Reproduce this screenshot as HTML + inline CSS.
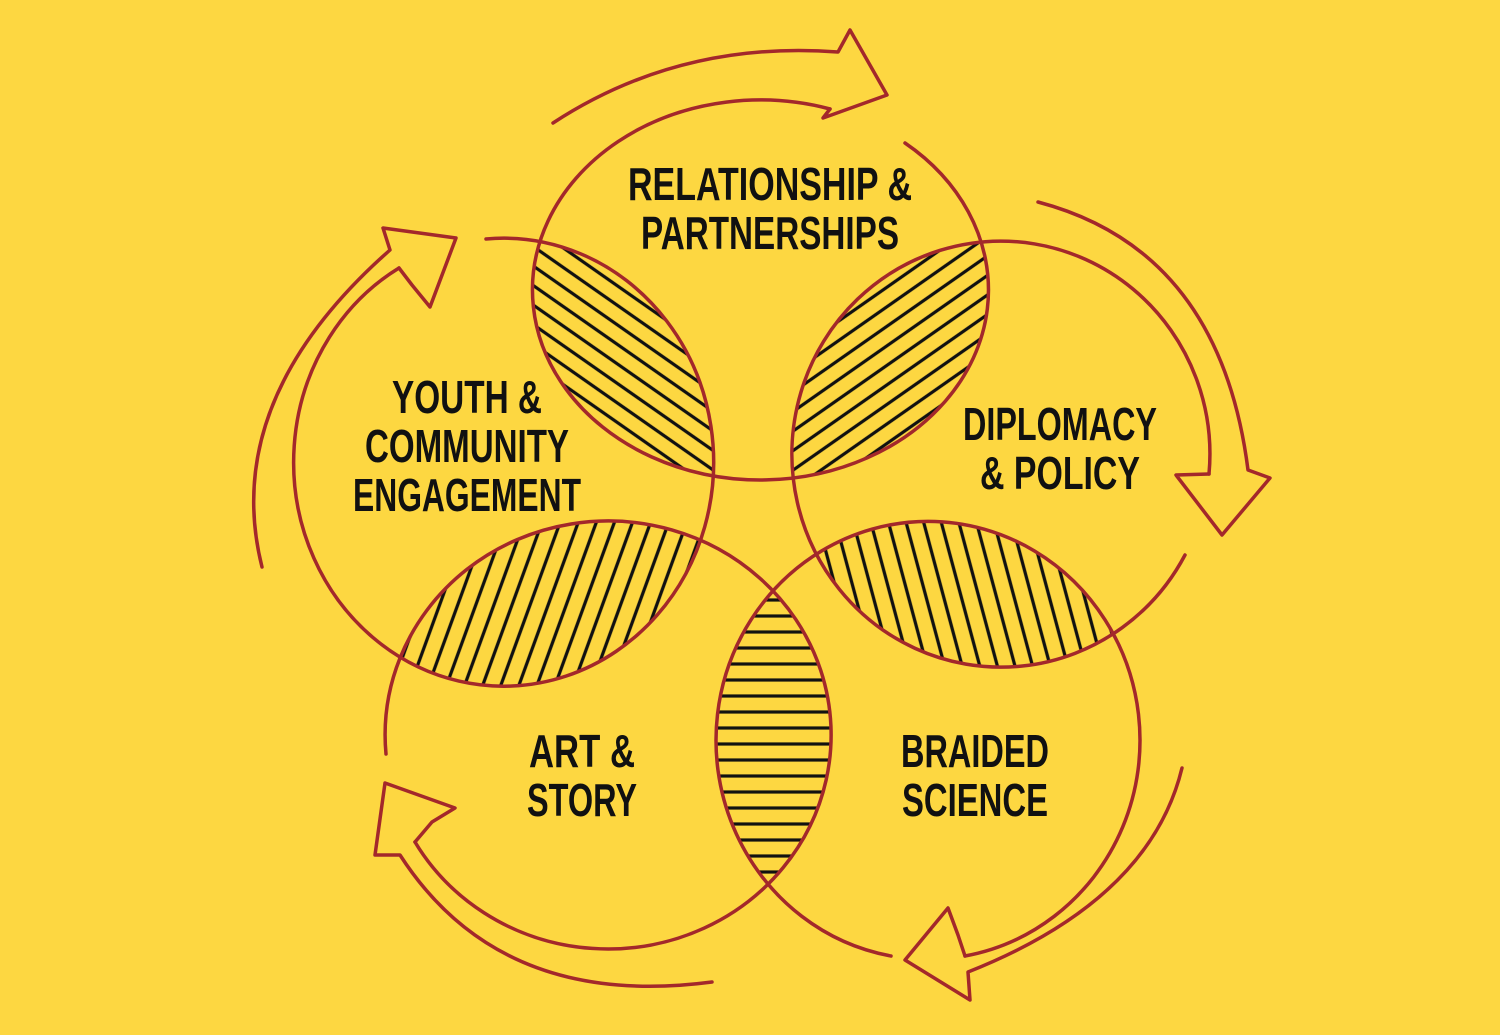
<!DOCTYPE html>
<html><head><meta charset="utf-8"><style>
html,body{margin:0;padding:0;background:#FDD741;}
svg{display:block;}
text{font-family:"Liberation Sans Narrow","Liberation Sans",sans-serif;font-weight:bold;font-size:46px;fill:#111;text-anchor:middle;}
</style></head><body>
<svg width="1500" height="1035" viewBox="0 0 1500 1035" xmlns="http://www.w3.org/2000/svg">
<rect width="1500" height="1035" fill="#FDD741"/>
<defs>
<pattern id="h1" width="16" height="16" patternUnits="userSpaceOnUse" patternTransform="rotate(35)"><line x1="0" y1="8" x2="16" y2="8" stroke="#111" stroke-width="3.2"/></pattern>
<pattern id="h2" width="16" height="16" patternUnits="userSpaceOnUse" patternTransform="rotate(-35)"><line x1="0" y1="8" x2="16" y2="8" stroke="#111" stroke-width="3.2"/></pattern>
<pattern id="h3" width="17" height="17" patternUnits="userSpaceOnUse" patternTransform="rotate(-70)"><line x1="0" y1="8" x2="17" y2="8" stroke="#111" stroke-width="3.2"/></pattern>
<pattern id="h4" width="17" height="17" patternUnits="userSpaceOnUse" patternTransform="rotate(75)"><line x1="0" y1="8" x2="17" y2="8" stroke="#111" stroke-width="3.2"/></pattern>
<pattern id="h5" width="16" height="16" patternUnits="userSpaceOnUse"><line x1="0" y1="8" x2="16" y2="8" stroke="#111" stroke-width="3.2"/></pattern>
<clipPath id="cT"><ellipse cx="760" cy="290" rx="228" ry="190"/></clipPath>
<clipPath id="cL"><ellipse cx="504" cy="462" rx="210" ry="224"/></clipPath>
<clipPath id="cR"><ellipse cx="1001" cy="455" rx="209" ry="213"/></clipPath>
<clipPath id="cA"><ellipse cx="608" cy="735" rx="223" ry="214"/></clipPath>
</defs>
<g>
<ellipse clip-path="url(#cT)" cx="504" cy="462" rx="210" ry="224" fill="url(#h1)"/>
<ellipse clip-path="url(#cT)" cx="1001" cy="455" rx="209" ry="213" fill="url(#h2)"/>
<ellipse clip-path="url(#cL)" cx="608" cy="735" rx="223" ry="214" fill="url(#h3)"/>
<ellipse clip-path="url(#cR)" cx="928" cy="740" rx="212" ry="219" fill="url(#h4)"/>
<ellipse clip-path="url(#cA)" cx="928" cy="740" rx="212" ry="219" fill="url(#h5)"/>
</g>
<g fill="none" stroke="#A3282B" stroke-width="3.5" stroke-linejoin="round" stroke-linecap="round">
<!-- circles with gaps -->
<path d="M905,143 A228,190 0 1 1 830,109"/>
<path d="M1185,555 A209,213 0 1 1 1209,474"/>
<path d="M891,956 A212,219 0 1 1 965,956"/>
<path d="M386,754 A223,214 0 1 1 415,842"/>
<path d="M486,239 A210,224 0 1 1 399,268"/>
<!-- arrows (outer line + head) -->
<path d="M553,123 Q680,40 838,52 L850,30 L887,95 L823,118 L830,109"/>
<path d="M1038,202 Q1220,250 1248,470 L1270,478 L1222,535 L1176,475 L1209,474"/>
<path d="M1182,768 Q1150,900 968,972 L970,1000 L905,960 L948,908 L958,935 L965,956"/>
<path d="M712,982 Q500,1010 400,855 L375,855 L385,783 L455,808 L432,822 L415,842"/>
<path d="M262,567 Q220,400 390,250 L383,228 L456,238 L430,307 L412,285 L399,268"/>
</g>
<text x="770" y="200" textLength="284" lengthAdjust="spacingAndGlyphs">RELATIONSHIP &amp;</text>
<text x="770" y="249" textLength="258" lengthAdjust="spacingAndGlyphs">PARTNERSHIPS</text>
<text x="467" y="413" textLength="150" lengthAdjust="spacingAndGlyphs">YOUTH &amp;</text>
<text x="467" y="462" textLength="204" lengthAdjust="spacingAndGlyphs">COMMUNITY</text>
<text x="467" y="511" textLength="228" lengthAdjust="spacingAndGlyphs">ENGAGEMENT</text>
<text x="1060" y="440" textLength="194" lengthAdjust="spacingAndGlyphs">DIPLOMACY</text>
<text x="1060" y="489" textLength="160" lengthAdjust="spacingAndGlyphs">&amp; POLICY</text>
<text x="582" y="767" textLength="106" lengthAdjust="spacingAndGlyphs">ART &amp;</text>
<text x="582" y="816" textLength="110" lengthAdjust="spacingAndGlyphs">STORY</text>
<text x="975" y="767" textLength="148" lengthAdjust="spacingAndGlyphs">BRAIDED</text>
<text x="975" y="816" textLength="146" lengthAdjust="spacingAndGlyphs">SCIENCE</text>
</svg>
</body></html>
